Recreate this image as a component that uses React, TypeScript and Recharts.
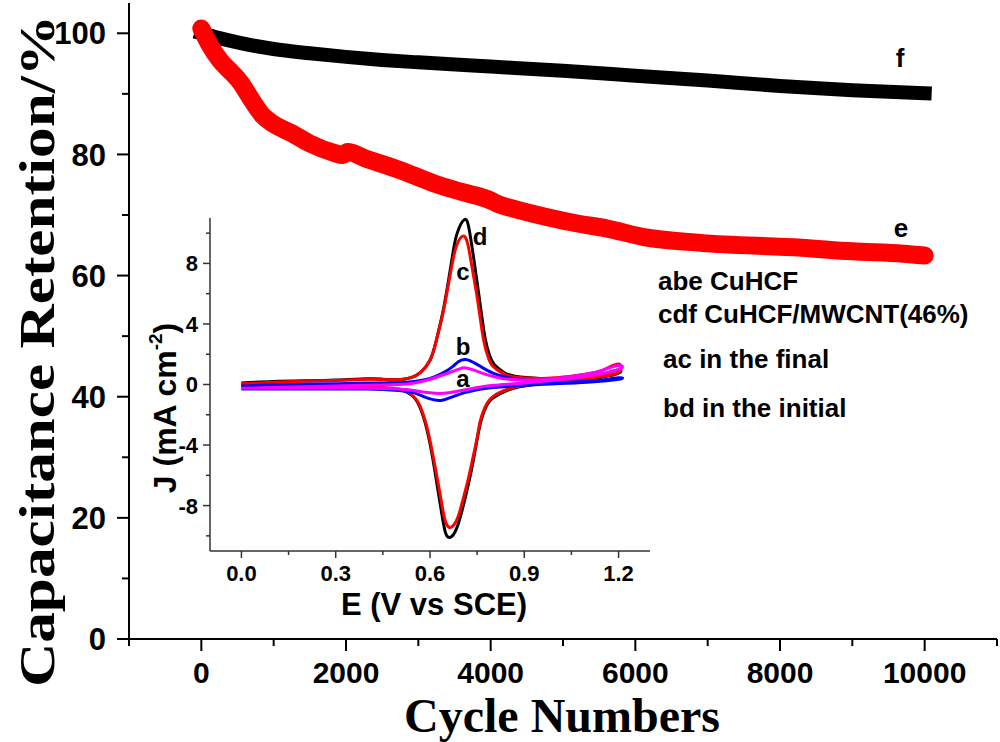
import { LineChart, Line, XAxis, YAxis } from "recharts";

const SANS = "'Liberation Sans', Arial, sans-serif";
const SERIF = "'Liberation Serif', 'Times New Roman', serif";

// main chart: capacitance retention vs cycle number
const cycleTicks = [-1000, 0, 1000, 2000, 3000, 4000, 5000, 6000, 7000, 8000, 9000, 10000, 11000];
const retentionTicks = [0, 10, 20, 30, 40, 50, 60, 70, 80, 90, 100];

// [cycle, retention %]
const curveF: [number, number][] = [
  [0, 100], [250, 99.2], [500, 98.5], [750, 97.9], [1000, 97.4], [1500, 96.7],
  [2000, 96.1], [2500, 95.6], [3000, 95.2], [4000, 94.5], [5000, 93.8],
  [6000, 93.0], [7000, 92.2], [8000, 91.3], [9000, 90.6], [10000, 90.1],
];
const curveE: [number, number][] = [
  [0, 100.8], [120, 98], [260, 95.5], [430, 93.4], [540, 91.9], [700, 88.9],
  [850, 86.4], [1000, 85], [1250, 83.5], [1500, 81.8], [1850, 80.2], [1950, 79.9],
  [2020, 80.4], [2300, 79.2], [2750, 77.4], [3200, 75.3], [3600, 73.8], [4000, 72.4],
  [4100, 71.8], [4300, 71.1], [4800, 69.6], [5200, 68.6], [5600, 67.8], [6100, 66.4],
  [6900, 65.4], [8300, 64.6], [9000, 64.0], [9700, 63.6], [10000, 63.3],
];

// inset: cyclic voltammograms, [E (V vs SCE), J (mA cm-2)]
const potentialTicks = [0, 0.15, 0.3, 0.45, 0.6, 0.75, 0.9, 1.05, 1.2];
const currentTicks = [-10, -8, -6, -4, -2, 0, 2, 4, 6, 8, 10];

const cvD: [number, number][] = [
  [0, 0.1], [0.1, 0.2], [0.2, 0.25], [0.3, 0.3], [0.4, 0.38], [0.45, 0.35], [0.5, 0.32],
  [0.54, 0.45], [0.57, 0.8], [0.6, 1.6], [0.62, 2.9], [0.64, 4.7], [0.655, 6.4],
  [0.67, 8.3], [0.685, 9.9], [0.71, 10.9], [0.725, 10.2], [0.74, 8.2], [0.757, 5.7],
  [0.775, 3.1], [0.79, 1.9], [0.805, 1.3], [0.835, 0.8], [0.87, 0.55], [0.95, 0.4],
  [1.0, 0.4], [1.05, 0.45], [1.1, 0.55], [1.15, 0.7], [1.2, 0.95],
  [1.2, 0.75], [1.15, 0.5], [1.1, 0.35], [1.05, 0.25], [1.0, 0.15], [0.95, 0.05],
  [0.9, -0.1], [0.85, -0.35], [0.8, -0.9], [0.78, -1.4], [0.765, -2.2], [0.752, -3.4],
  [0.738, -5.0], [0.722, -6.6], [0.706, -8.0], [0.69, -9.2], [0.675, -9.9], [0.66, -10.1],
  [0.648, -9.7], [0.638, -8.6], [0.627, -7.2], [0.613, -5.4], [0.598, -3.7], [0.583, -2.4],
  [0.568, -1.5], [0.553, -0.95], [0.53, -0.55], [0.5, -0.35], [0.45, -0.25], [0.4, -0.2],
  [0.3, -0.15], [0.2, -0.12], [0.1, -0.1], [0, -0.05],
];
const cvC: [number, number][] = [
  [0, 0.05], [0.1, 0.15], [0.2, 0.22], [0.3, 0.27], [0.4, 0.34], [0.45, 0.33], [0.5, 0.32],
  [0.54, 0.45], [0.57, 0.8], [0.6, 1.6], [0.62, 2.9], [0.64, 4.6], [0.655, 6.2],
  [0.67, 7.9], [0.685, 9.2], [0.705, 9.8], [0.72, 9.3], [0.735, 7.6], [0.752, 5.5],
  [0.77, 3.0], [0.785, 1.8], [0.8, 1.2], [0.83, 0.75], [0.87, 0.5], [0.95, 0.4],
  [1.0, 0.45], [1.05, 0.55], [1.1, 0.7], [1.15, 0.95], [1.2, 1.35],
  [1.2, 0.8], [1.15, 0.55], [1.1, 0.4], [1.05, 0.3], [1.0, 0.2], [0.95, 0.1],
  [0.9, -0.05], [0.85, -0.3], [0.8, -0.8], [0.775, -1.5], [0.76, -2.4], [0.75, -3.5],
  [0.735, -5.0], [0.72, -6.4], [0.705, -7.6], [0.69, -8.7], [0.675, -9.3], [0.662, -9.45],
  [0.65, -9.1], [0.64, -8.2], [0.63, -7.0], [0.615, -5.3], [0.6, -3.7], [0.585, -2.4],
  [0.57, -1.5], [0.555, -0.95], [0.53, -0.5], [0.5, -0.3], [0.45, -0.2], [0.4, -0.15],
  [0.3, -0.12], [0.2, -0.1], [0.1, -0.08], [0, -0.05],
];
const cvB: [number, number][] = [
  [0, -0.1], [0.1, -0.02], [0.2, 0.02], [0.3, 0.05], [0.4, 0.1], [0.5, 0.12], [0.55, 0.2],
  [0.6, 0.4], [0.64, 0.75], [0.67, 1.15], [0.69, 1.5], [0.71, 1.65], [0.73, 1.55],
  [0.76, 1.2], [0.8, 0.75], [0.85, 0.45], [0.9, 0.3], [0.95, 0.2], [1.0, 0.15],
  [1.1, 0.2], [1.15, 0.3], [1.2, 0.45],
  [1.2, 0.35], [1.1, 0.15], [1.0, 0.05], [0.9, -0.05], [0.8, -0.2], [0.75, -0.35],
  [0.7, -0.6], [0.66, -0.9], [0.635, -1.05], [0.61, -1.0], [0.58, -0.8], [0.55, -0.55],
  [0.5, -0.4], [0.4, -0.3], [0.3, -0.3], [0.2, -0.3], [0.1, -0.3], [0, -0.3],
];
const cvA: [number, number][] = [
  [0, -0.25], [0.1, -0.2], [0.2, -0.15], [0.3, -0.1], [0.4, -0.05], [0.5, 0.0],
  [0.55, 0.1], [0.6, 0.35], [0.65, 0.7], [0.69, 1.0], [0.71, 1.1], [0.74, 0.95],
  [0.78, 0.65], [0.83, 0.4], [0.9, 0.3], [1.0, 0.4], [1.1, 0.7], [1.15, 0.95], [1.2, 1.25],
  [1.2, 1.0], [1.1, 0.55], [1.0, 0.3], [0.9, 0.1], [0.8, -0.05], [0.75, -0.2],
  [0.7, -0.4], [0.66, -0.55], [0.63, -0.6], [0.6, -0.55], [0.55, -0.4], [0.5, -0.3],
  [0.4, -0.25], [0.3, -0.25], [0.2, -0.25], [0.1, -0.25], [0, -0.25],
];

const toPoints = (pairs: [number, number][]) => pairs.map(([x, y]) => ({ x, y }));

function MainYTick(props: any) {
  const { x, y, payload } = props;
  const major = payload.value % 20 === 0;
  const len = major ? 12 : 7;
  return (
    <g>
      <line x1={x - len} y1={y} x2={x} y2={y} stroke="#000" strokeWidth={2} />
      {major && (
        <text x={x - 23} y={y} dy="0.36em" textAnchor="end" fontFamily={SANS} fontWeight="bold" fontSize={31} fill="#000">
          {payload.value}
        </text>
      )}
    </g>
  );
}

function MainXTick(props: any) {
  const { x, y, payload } = props;
  const v = payload.value;
  const major = v % 2000 === 0 && v >= 0 && v <= 10000;
  const len = major ? 12 : 7;
  return (
    <g>
      <line x1={x} y1={y} x2={x} y2={y + len} stroke="#000" strokeWidth={2} />
      {major && (
        <text x={x} y={y + 44} textAnchor="middle" fontFamily={SANS} fontWeight="bold" fontSize={30} fill="#000">
          {v}
        </text>
      )}
    </g>
  );
}

function InsetYTick(props: any) {
  const { x, y, payload } = props;
  const major = payload.value % 4 === 0;
  const len = major ? 7 : 4;
  return (
    <g>
      <line x1={x - len} y1={y} x2={x} y2={y} stroke="#333" strokeWidth={1.5} />
      {major && (
        <text x={x - 12} y={y} dy="0.36em" textAnchor="end" fontFamily={SANS} fontWeight="bold" fontSize={22} fill="#000">
          {payload.value}
        </text>
      )}
    </g>
  );
}

function InsetXTick(props: any) {
  const { x, y, payload } = props;
  const v = payload.value;
  const r = v / 0.3;
  const major = Math.abs(r - Math.round(r)) < 1e-6;
  const len = major ? 7 : 4;
  return (
    <g>
      <line x1={x} y1={y} x2={x} y2={y + len} stroke="#333" strokeWidth={1.5} />
      {major && (
        <text x={x} y={y + 30} textAnchor="middle" fontFamily={SANS} fontWeight="bold" fontSize={22} fill="#000">
          {v.toFixed(1)}
        </text>
      )}
    </g>
  );
}

export default function App() {
  return (
    <div style={{ position: "absolute", left: 0, top: 0, width: 1000, height: 742, background: "#fff" }}>
      <div style={{ position: "absolute", left: 0, top: 0 }}>
        <LineChart width={1000} height={742} margin={{ top: 3, right: 3, bottom: 0, left: 0 }}>
          <XAxis
            type="number"
            dataKey="x"
            domain={[-1000, 11000]}
            ticks={cycleTicks}
            height={103}
            tickSize={0}
            tickMargin={0}
            tickLine={false}
            axisLine={{ stroke: "#000", strokeWidth: 2 }}
            tick={MainXTick}
            interval={0}
          />
          <YAxis
            type="number"
            domain={[0, 105]}
            ticks={retentionTicks}
            width={129}
            tickSize={0}
            tickMargin={0}
            tickLine={false}
            axisLine={{ stroke: "#000", strokeWidth: 2 }}
            tick={MainYTick}
            interval={0}
          />
          <XAxis xAxisId="top" orientation="top" type="number" domain={[-1000, 11000]} height={0} tick={false} tickLine={false} axisLine={{ stroke: "#000", strokeWidth: 2 }} />
          <YAxis yAxisId="right" orientation="right" type="number" domain={[0, 105]} width={0} tick={false} tickLine={false} axisLine={{ stroke: "#000", strokeWidth: 2 }} />
          <Line
            data={toPoints(curveF)}
            dataKey="y"
            type="monotone"
            stroke="#000"
            strokeWidth={14}
            strokeLinecap="square"
            strokeLinejoin="round"
            dot={false}
            activeDot={false}
            isAnimationActive={false}
          />
          <Line
            data={toPoints(curveE)}
            dataKey="y"
            type="monotone"
            stroke="#ff0000"
            strokeWidth={18}
            strokeLinecap="round"
            strokeLinejoin="round"
            dot={false}
            activeDot={false}
            isAnimationActive={false}
          />
        </LineChart>
      </div>

      <div style={{ position: "absolute", left: 150, top: 210 }}>
        <LineChart width={510} height={410} margin={{ top: 8, right: 10, bottom: 0, left: 0 }}>
          <XAxis
            type="number"
            dataKey="x"
            domain={[-0.1, 1.3]}
            ticks={potentialTicks}
            height={69}
            tickSize={0}
            tickMargin={0}
            tickLine={false}
            axisLine={{ stroke: "#333", strokeWidth: 1.5 }}
            tick={InsetXTick}
            interval={0}
          />
          <YAxis
            type="number"
            domain={[-11, 11]}
            ticks={currentTicks}
            width={60}
            tickSize={0}
            tickMargin={0}
            tickLine={false}
            axisLine={{ stroke: "#333", strokeWidth: 1.5 }}
            tick={InsetYTick}
            interval={0}
          />
          <XAxis xAxisId="top" orientation="top" type="number" domain={[-0.1, 1.3]} height={0} tick={false} tickLine={false} axisLine={{ stroke: "#333", strokeWidth: 1.5 }} />
          <YAxis yAxisId="right" orientation="right" type="number" domain={[-11, 11]} width={0} tick={false} tickLine={false} axisLine={{ stroke: "#333", strokeWidth: 1.5 }} />
          <Line data={toPoints(cvD)} dataKey="y" type="natural" stroke="#000" strokeWidth={3} dot={false} activeDot={false} isAnimationActive={false} />
          <Line data={toPoints(cvC)} dataKey="y" type="natural" stroke="#ff0000" strokeWidth={3} dot={false} activeDot={false} isAnimationActive={false} />
          <Line data={toPoints(cvB)} dataKey="y" type="natural" stroke="#0000ff" strokeWidth={3} dot={false} activeDot={false} isAnimationActive={false} />
          <Line data={toPoints(cvA)} dataKey="y" type="natural" stroke="#ff00ff" strokeWidth={3} dot={false} activeDot={false} isAnimationActive={false} />
        </LineChart>
      </div>

      <svg width={1000} height={742} style={{ position: "absolute", left: 0, top: 0, pointerEvents: "none" }}>
        <text
          transform="translate(54,351) rotate(-90)"
          textAnchor="middle"
          fontFamily={SERIF}
          fontWeight="bold"
          fontSize={50}
          textLength={672}
          lengthAdjust="spacingAndGlyphs"
          fill="#000"
        >
          Capacitance Retention/%
        </text>
        <text x={562} y={732} textAnchor="middle" fontFamily={SERIF} fontWeight="bold" fontSize={48} fill="#000">
          Cycle Numbers
        </text>

        <text x={434} y={615} textAnchor="middle" fontFamily={SANS} fontWeight="bold" fontSize={31} fill="#000">
          E (V vs SCE)
        </text>
        <text transform="translate(176,408) rotate(-90)" textAnchor="middle" fontFamily={SANS} fontWeight="bold" fontSize={32} fill="#000">
          J (mA cm
          <tspan fontSize={19} dy={-14}>-2</tspan>
          <tspan dy={14}>)</tspan>
        </text>

        <g fontFamily={SANS} fontWeight="bold" fontSize={24} fill="#000">
          <text x={480} y={245} textAnchor="middle">d</text>
          <text x={463} y={280} textAnchor="middle">c</text>
          <text x={463} y={355} textAnchor="middle">b</text>
          <text x={463} y={387} textAnchor="middle">a</text>
        </g>

        <g fontFamily={SANS} fontWeight="bold" fontSize={26} fill="#000">
          <text x={900} y={67} textAnchor="middle">f</text>
          <text x={901} y={237} textAnchor="middle">e</text>
          <text x={658} y={290}>abe CuHCF</text>
          <text x={658} y={323}>cdf CuHCF/MWCNT(46%)</text>
          <text x={663} y={368}>ac in the final</text>
          <text x={663} y={417}>bd in the initial</text>
        </g>
      </svg>
    </div>
  );
}
